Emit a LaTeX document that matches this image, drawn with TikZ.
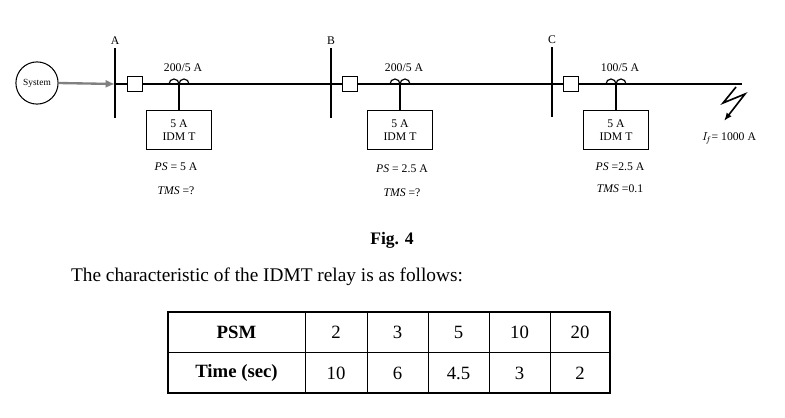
\documentclass[tikz,border=0pt]{standalone}
\usepackage{fontspec}
\setmainfont{Liberation Serif}
\usetikzlibrary{arrows.meta}
\tikzset{
  lbl/.style={font=\fontsize{10}{11}\selectfont, inner sep=0pt},
  wire/.style={line width=1pt},
  cb/.style={draw, line width=0.9pt, fill=white, minimum size=13pt, inner sep=0pt},
  relay/.style={draw, line width=0.9pt, minimum width=55pt, minimum height=34pt, align=center, font=\fontsize{10}{11}\selectfont, inner sep=0pt},
  cell/.style={font=\fontsize{16}{18}\selectfont, inner sep=0pt}
}
\begin{document}
\begin{tikzpicture}[x=0.03cm,y=-0.03cm]
\useasboundingbox (0,0) rectangle (785,417);
% system source
\node[draw, line width=0.9pt, circle, inner sep=0pt, minimum width=36pt, font=\fontsize{8}{9}\selectfont] (sys) at (37,83) {System};
\coordinate (A1) at (115,48); \coordinate (A2) at (115,118);
\coordinate (B1) at (331,48); \coordinate (B2) at (331,118);
\coordinate (C1) at (552,47); \coordinate (C2) at (552,117);
\coordinate (end) at (742,84);
\draw[line width=1.2pt] (A1) -- (A2);
\draw[line width=1.2pt] (B1) -- (B2);
\draw[line width=2.2pt] (C1) -- (C2);
\node[lbl, above=3pt] at (A1) {A};
\node[lbl, above=3pt] at (B1) {B};
\node[lbl, above=3pt] at (C1) {C};
\draw[gray, line width=2pt, -{Latex[length=8pt,width=7pt]}] (sys.east) -- (115,84);
\draw[wire] (115,84) -- (end);
% breakers
\node[cb] (cbA) at (135,84) {};
\node[cb] (cbB) at (350,84) {};
\node[cb] (cbC) at (571,84) {};
% CTs and relays
\foreach \n/\x/\r in {a/179/200, b/400/200, c/616/100}{
  \draw[wire] (\x-10,84) arc (180:360:5) arc (180:360:5);
  \node[lbl] at (\x+4,68) {\r/5 A};
  \node[relay] (r\n) at (\x,130) {5 A\\IDM T};
  \draw[wire] (\x,84) -- (r\n.north);
}
\node[lbl] at (176,167) {\textit{PS} = 5 A};
\node[lbl] at (176,191) {\textit{TMS} =?};
\node[lbl] at (402,169) {\textit{PS} = 2.5 A};
\node[lbl] at (402,193) {\textit{TMS} =?};
\node[lbl] at (620,167) {\textit{PS} =2.5 A};
\node[lbl] at (620,189) {\textit{TMS} =0.1};
% fault
\draw[line width=1.4pt, -{Latex[length=7pt]}] (736,87) -- (723,103) -- (745,94) -- (724,121);
\node[lbl] at (729,138) {$I_{\!f}$= 1000 A};
% caption
\node[font=\fontsize{15}{17}\selectfont\bfseries] at (392,240) {Fig. 4};
\node[font=\fontsize{16.5}{18}\selectfont] at (267,277) {The characteristic of the IDMT relay is as follows:};
% table
\draw[line width=0.9pt] (168,312) rectangle (610,393);
\draw (168,352) -- (610,352);
\foreach \x in {305,367,428,489,550} \draw (\x,312) -- (\x,393);
\node[cell, font=\fontsize{16}{18}\selectfont\bfseries] at (236.5,332) {PSM};
\node[cell, font=\fontsize{16}{18}\selectfont\bfseries] at (236.5,373) {Time (sec)};
\foreach \x/\p/\t in {336/2/10, 397.5/3/6, 458.5/5/4.5, 519.5/10/3, 580/20/2}{
  \node[cell] at (\x,332) {\p};
  \node[cell] at (\x,373) {\t};
}
\end{tikzpicture}
\end{document}
